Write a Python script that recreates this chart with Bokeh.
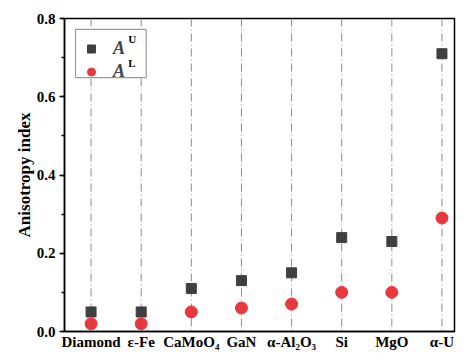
from bokeh.plotting import figure
from bokeh.models import (Range1d, FixedTicker, SingleIntervalTicker, Legend, LegendItem, Label, Span)
from bokeh.embed import file_html
from bokeh.resources import INLINE

materials = ["Diamond", "ε-Fe", "CaMoO₄", "GaN", "α-Al₂O₃", "Si", "MgO", "α-U"]
AU = [0.05, 0.05, 0.11, 0.13, 0.15, 0.24, 0.23, 0.71]
AL = [0.02, 0.02, 0.05, 0.06, 0.07, 0.10, 0.10, 0.29]
yticks = [0.0, 0.2, 0.4, 0.6, 0.8]
ytick_labels = ["0.0", "0.2", "0.4", "0.6", "0.8"]

FONT = "Liberation Serif"
xs = list(range(len(materials)))

p = figure(width=458, height=352, output_backend="svg", toolbar_location=None,
           x_range=Range1d(-0.53, 7.25), y_range=Range1d(0, 0.8),
           min_border_left=64, min_border_right=4, min_border_top=18, min_border_bottom=20)
p.background_fill_color = "white"
p.border_fill_color = "white"
p.outline_line_color = "black"
p.outline_line_width = 1.5
p.xgrid.grid_line_color = None
p.ygrid.grid_line_color = None

for x in xs:
    p.add_layout(Span(location=x, dimension="height", line_color="#8c8c8c",
                      line_width=1, line_dash="8 3 1 3", level="underlay"))

# legend frame (white, hides the guide lines behind the legend)
p.quad(left=[-0.31], right=[1.10], bottom=[0.649], top=[0.772],
       fill_color="white", fill_alpha=1, line_color="#9a9a9a", line_width=1.2)

r_u = p.scatter(xs, AU, marker="square", size=10, fill_color="#3f3f3f", line_color="#3f3f3f")
r_l = p.scatter(xs, AL, marker="circle", size=12, fill_color="#e8383d", line_color="#e8383d")

p.xaxis.ticker = FixedTicker(ticks=xs)
p.xaxis.major_label_overrides = {i: m for i, m in enumerate(materials)}
p.xaxis.major_tick_line_color = None
p.xaxis.minor_tick_line_color = None
p.xaxis.major_tick_out = 0
p.xaxis.major_tick_in = 0
p.xaxis.minor_tick_out = 0
p.xaxis.minor_tick_in = 0
p.xaxis.axis_line_width = 1.5
p.xaxis.major_label_text_font = FONT
p.xaxis.major_label_text_font_style = "bold"
p.xaxis.major_label_text_font_size = "15px"
p.xaxis.major_label_text_color = "black"
p.xaxis.major_label_standoff = 2

p.yaxis.ticker = SingleIntervalTicker(interval=0.2, num_minor_ticks=2)
p.yaxis.major_label_overrides = {t: l for t, l in zip(yticks, ytick_labels)}
p.yaxis.axis_line_width = 1.5
p.yaxis.major_tick_line_width = 1.5
p.yaxis.major_tick_out = 5
p.yaxis.major_tick_in = 0
p.yaxis.minor_tick_out = 3
p.yaxis.minor_tick_in = 0
p.yaxis.minor_tick_line_width = 1.5
p.yaxis.major_label_text_font = FONT
p.yaxis.major_label_text_font_style = "bold"
p.yaxis.major_label_text_font_size = "15px"
p.yaxis.major_label_text_color = "black"
p.yaxis.major_label_standoff = 4
p.yaxis.axis_label = "Anisotropy index"
p.yaxis.axis_label_text_font = FONT
p.yaxis.axis_label_text_font_style = "bold"
p.yaxis.axis_label_text_font_size = "17px"
p.yaxis.axis_label_text_color = "black"
p.yaxis.axis_label_standoff = 0

legend = Legend(items=[LegendItem(label="A", renderers=[r_u]),
                       LegendItem(label="A", renderers=[r_l])],
                location=(17, 249), border_line_color=None,
                label_text_font=FONT, label_text_font_style="bold italic",
                label_text_font_size="18px", glyph_width=20, glyph_height=21,
                label_standoff=12, padding=4, spacing=2, margin=0,
                label_width=30, background_fill_alpha=0)
p.add_layout(legend, "center")

for txt, y in [("U", 0.733), ("L", 0.672)]:
    p.add_layout(Label(x=0.74, y=y, text=txt, text_font=FONT, text_font_style="bold",
                       text_font_size="11px", text_color="black"))

open("out.html", "w").write(file_html(p, INLINE))
